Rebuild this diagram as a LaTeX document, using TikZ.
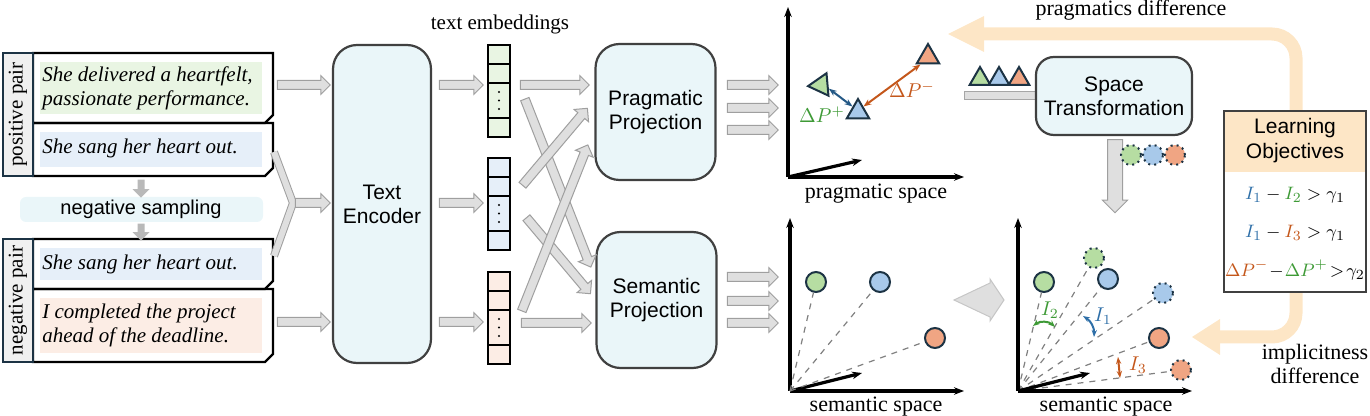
\documentclass[tikz,border=0pt]{standalone}
\usepackage{fontspec}
\setmainfont{Liberation Serif}
\newfontfamily\sansf{Liberation Sans}
\usetikzlibrary{shapes.arrows,shapes.geometric,calc,arrows.meta}
\definecolor{cgreen}{HTML}{B6DDA2}
\definecolor{cblue}{HTML}{A8C9EA}
\definecolor{corange}{HTML}{F0A583}
\definecolor{dline}{HTML}{1C3344}
\definecolor{mblue}{HTML}{2E6FA8}
\definecolor{mgreen}{HTML}{3E9A36}
\definecolor{morange}{HTML}{C4571B}
\definecolor{boxfill}{HTML}{EAF6F9}
\definecolor{peach}{HTML}{FDE6C6}
\definecolor{hlg}{HTML}{E9F5E3}
\definecolor{hlb}{HTML}{E6EFF9}
\definecolor{hlo}{HTML}{FCEDE5}
\newcommand\barr[3][]{\path let \p1=(#2), \p2=(#3), \n1={atan2(\y2-\y1,\x2-\x1)}, \n2={veclen(\x2-\x1,\y2-\y1)} in node[barrow,#1,minimum height=\n2,rotate=\n1] at ($(\p1)!0.5!(\p2)$) {};}
\tikzset{
 barrow/.style={single arrow,draw=gray!75,fill=gray!25,line width=0.5pt,inner sep=0pt,inner ysep=2pt,minimum width=9pt,single arrow head extend=2.5pt,single arrow head indent=0pt,anchor=center},
 sent/.style={draw=black,line width=1.1pt},
 lbl/.style={draw=dline,line width=1.2pt,fill=gray!12},
 rbox/.style={draw=black!75,line width=1.1pt,fill=boxfill,rounded corners=12pt,font=\sansf\fontsize{10.5}{12}\selectfont,align=center},
 tri/.style={regular polygon,regular polygon sides=3,draw=dline,line width=1pt,minimum size=13pt,inner sep=0pt},
 circ/.style={circle,draw=dline,line width=1pt,minimum size=10pt,inner sep=0pt},
 dcirc/.style={circle,draw=dline,line width=1pt,dotted,minimum size=10pt,inner sep=0pt},
 axis/.style={line width=1.6pt,-{Stealth[length=5pt]}},
 dashl/.style={gray,dashed,line width=0.6pt},
 stxt/.style={font=\itshape\fontsize{10.5}{12}\selectfont,align=left,anchor=west,inner sep=1pt},
 sp/.style={font=\fontsize{11}{12}\selectfont},
 fm/.style={font=\fontsize{9.5}{11}\selectfont}
}
\begin{document}
\begin{tikzpicture}[x=0.5pt,y=-0.5pt]
\useasboundingbox (0,0) rectangle (1370,416);
% sentence boxes
\foreach \a/\b/\c in {53/123/hlg,123/176/hlb,239/289/hlb,289/362/hlo}{
 \fill[\c] (40,\a+9) rectangle (262,\b-9);
 \draw[sent] (33,\a)--(273,\a)--(273,\b-8)--(265,\b)--(33,\b)--cycle;}
\draw[lbl] (3,53) rectangle (33,176);
\draw[lbl] (3,239) rectangle (33,362);
\node[rotate=90,font=\fontsize{10.5}{12}\selectfont] (pp) at (18,114.5) {positive pair};
\node[rotate=90,font=\fontsize{10.5}{12}\selectfont] (np) at (18,300.5) {negative pair};
\node[stxt] (s1) at (40,88) {She delivered a heartfelt,\\passionate performance.};
\node[stxt] (s2) at (40,148) {She sang her heart out.};
\node[stxt] (s3) at (40,264) {She sang her heart out.};
\node[stxt] (s4) at (40,325) {I completed the project\\ahead of the deadline.};
\fill[boxfill,rounded corners=3pt] (20,197) rectangle (263,222);
\node[font=\sansf\fontsize{10}{12}\selectfont] (ns) at (141,209.5) {negative sampling};
\coordinate (n1) at (141,178); \coordinate (n2) at (141,196);
\coordinate (n3) at (141,222); \coordinate (n4) at (141,239);
\barr[minimum width=7pt,inner ysep=1.5pt,draw=none,fill=gray!55]{n1}{n2}
\barr[minimum width=7pt,inner ysep=1.5pt,draw=none,fill=gray!55]{n3}{n4}
% encoder
\node[rbox,minimum width=49pt,minimum height=159pt] (enc) at (382,204) {Text\\Encoder};
\coordinate (a1) at (275,85); \coordinate (b1) at (328,85);
\coordinate (a3) at (275,322); \coordinate (b3) at (328,322);
\coordinate (j1) at (274,152); \coordinate (j2) at (274,256); \coordinate (jj) at (293,203); \coordinate (b2) at (328,203);
\barr{a1}{b1} \barr{a3}{b3}
\draw[draw=gray!75,double=gray!25,double distance=3pt,line width=0.5pt] (j1)--(jj)--(j2);
\barr{jj}{b2}
% embeddings
\node[font=\fontsize{10.5}{12}\selectfont] (te) at (500,24) {text embeddings};
\foreach \o/\c/\n in {0/hlg/g,113/hlb/b,227/hlo/o}{
 \draw[fill=\c,line width=0.8pt] (488,45+\o) rectangle (510,137+\o);
 \foreach \yy in {64,83,118} \draw[line width=0.8pt] (488,\yy+\o)--(510,\yy+\o);
 \foreach \yy in {92,100.5,109} \fill (499,\yy+\o) circle (0.6pt);
 \coordinate (e\n) at (499,91+\o);}
\foreach \yy in {85,203,322}{\coordinate (p\yy) at (437,\yy); \coordinate (q\yy) at (481,\yy); \barr{p\yy}{q\yy}}
% projections
\node[rbox,minimum width=60pt,minimum height=68pt] (prag) at (655.5,112) {Pragmatic\\Projection};
\node[rbox,minimum width=60pt,minimum height=68pt] (sem) at (656.5,300) {Semantic\\Projection};
\coordinate (c1) at (518,85); \coordinate (d1) at (587,85);
\coordinate (c2) at (519,323); \coordinate (d2) at (589,323);
\coordinate (c3) at (524,97); \coordinate (d3) at (590,265);
\coordinate (c4) at (521,187); \coordinate (d4) at (586,110);
\coordinate (c5) at (525,216); \coordinate (d5) at (589,292);
\coordinate (c6) at (521,313); \coordinate (d6) at (587,147);
\foreach \i in {1,...,6}{\barr{c\i}{d\i}}
\foreach \yy in {85,108,130,277,301,323}{\coordinate (o\yy) at (725,\yy); \coordinate (r\yy) at (776,\yy); \barr{o\yy}{r\yy}}
% pragmatic space
\coordinate (O1) at (788,177);
\coordinate (Y1) at (788,7); \coordinate (X1) at (964,177); \coordinate (Z1) at (862,160);
\draw[axis] (O1)--(Y1); \draw[axis] (O1)--(X1); \draw[axis] (O1)--(Z1);
\node[sp] (ps) at (876,194) {pragmatic space};
\node[tri,fill=cgreen,rotate=-25] (tg) at (821,85) {};
\node[tri,fill=cblue] (tb) at (858,112) {};
\node[tri,fill=corange] (to) at (928,57) {};
\draw[mblue!80!black,line width=1pt,{Stealth[length=4pt]}-{Stealth[length=4pt]}] (tg.east)--(tb.north west);
\draw[morange,line width=1pt,{Stealth[length=4pt]}-{Stealth[length=4pt]}] (tb.north east)--(to.south west);
\node[text=mgreen] (dpp) at (822,115) {$\Delta P^{+}$};
\node[text=morange] (dpm) at (912,90) {$\Delta P^{-}$};
% space transformation
\fill[gray!25,draw=gray!70,line width=0.5pt] (964,92) rectangle (1036,100);
\node[tri,fill=cgreen,minimum size=12pt] (t1) at (980,79) {};
\node[tri,fill=cblue,minimum size=12pt] (t2) at (999,79) {};
\node[tri,fill=corange,minimum size=12pt] (t3) at (1019,79) {};
\node[rbox,minimum width=78pt,minimum height=39pt,rounded corners=9pt] (st) at (1114,96) {Space\\Transformation};
\coordinate (sd1) at (1115,136); \coordinate (sd2) at (1115,209);
\barr[minimum width=12pt,inner ysep=3.5pt]{sd1}{sd2}
\node[dcirc,fill=cgreen] (u1) at (1131,155) {};
\node[dcirc,fill=cblue] (u2) at (1153,155) {};
\node[dcirc,fill=corange] (u3) at (1175,155) {};
% semantic space 1
\coordinate (O2) at (790,391);
\coordinate (Y2) at (790,218); \coordinate (X2) at (964,391); \coordinate (Z2) at (862,373);
\draw[axis] (O2)--(Y2); \draw[axis] (O2)--(X2); \draw[axis] (O2)--(Z2);
\node[sp] (ss1) at (876,407) {semantic space};
\node[circ,fill=cgreen] (g1) at (816,282) {};
\node[circ,fill=cblue] (b1c) at (880,282) {};
\node[circ,fill=corange] (o1c) at (935,338) {};
\foreach \n in {g1,b1c,o1c} \draw[dashl] (O2)--(\n);
\fill[gray!25,draw=gray!45,line width=0.5pt] (954,300)--(990,283)--(990,279)--(1004,300)--(990,321)--(990,317)--cycle;
% semantic space 2
\coordinate (O3) at (1018,391);
\coordinate (Y3) at (1018,218); \coordinate (X3) at (1192,391); \coordinate (Z3) at (1090,373);
\node[circ,fill=cgreen] (g2) at (1044,282) {};
\node[circ,fill=cblue] (b2c) at (1108,279) {};
\node[circ,fill=corange] (o2c) at (1159,338) {};
\node[dcirc,fill=cgreen] (g3) at (1094,258) {};
\node[dcirc,fill=cblue] (b3c) at (1163,293) {};
\node[dcirc,fill=corange] (o3c) at (1181,370) {};
\foreach \n in {g2,b2c,o2c,g3,b3c,o3c} \draw[dashl] (O3)--(\n);
\draw[axis] (O3)--(Y3); \draw[axis] (O3)--(X3); \draw[axis] (O3)--(Z3);
\node[sp] (ss2) at (1106,407) {semantic space};
\draw[mgreen,line width=1pt,{Stealth[length=3.5pt]}-{Stealth[length=3.5pt]}] (1033,326) to[bend left=40] (1055,327);
\draw[mblue,line width=1pt,{Stealth[length=3.5pt]}-{Stealth[length=3.5pt]}] (1083,316) to[bend left=30] (1094,337);
\draw[morange,line width=1pt,{Stealth[length=3.5pt]}-{Stealth[length=3.5pt]}] (1118,357)--(1120,378);
\node[text=mgreen] (i2) at (1050,310) {$I_2$};
\node[text=mblue] (i1) at (1103,316) {$I_1$};
\node[text=morange] (i3) at (1138,365) {$I_3$};
% learning objectives
\coordinate (lt) at (1296,111); \coordinate (lb) at (1296,292);
\draw[peach,line width=6.5pt,rounded corners=12pt] (lt)--(1296,34)--(982,34);
\fill[peach] (984,16)--(948,34)--(984,52)--cycle;
\draw[peach,line width=6.5pt,rounded corners=12pt] (lb)--(1296,337)--(1218,337);
\fill[peach] (1220,319)--(1192,337)--(1220,355)--cycle;
\node[sp] (pd) at (1131,10) {pragmatics difference};
\node[sp,align=center] (id) at (1315,364) {implicitness\\difference};
\fill[peach] (1224,111) rectangle (1366,172);
\draw[draw=black!75,line width=1.3pt] (1224,111) rectangle (1366,292);
\node[font=\sansf\fontsize{10.5}{12.5}\selectfont,align=center] (lo) at (1295,141) {Learning\\Objectives};
\node[fm] (f1) at (1295,195) {$\color{mblue}I_1\color{black}-\color{mgreen}I_2\color{black}>\gamma_1$};
\node[fm] (f2) at (1295,233) {$\color{mblue}I_1\color{black}-\color{morange}I_3\color{black}>\gamma_1$};
\node[fm,inner sep=0pt] (f3) at (1295,270) {$\color{morange}\Delta P^-\color{black}\!-\!\color{mgreen}\Delta P^+\color{black}\!>\!\gamma_2$};
\end{tikzpicture}
\end{document}
